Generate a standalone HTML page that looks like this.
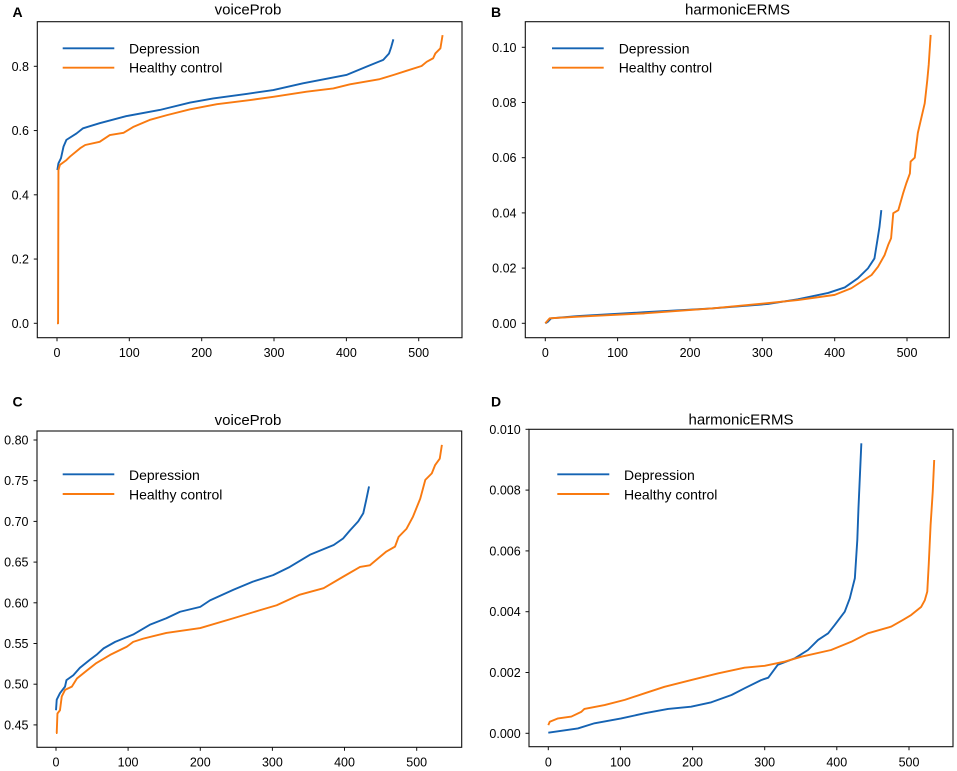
<!DOCTYPE html>
<html><head><meta charset="utf-8"><style>
html,body{margin:0;padding:0;background:#fff;}
svg{display:block;}
text{font-family:"Liberation Sans",Arial,sans-serif;fill:#000;}
.t{font-size:12.5px;}
.ti{font-size:15px;}
.lg{font-size:14px;}
.pl{font-size:14px;font-weight:bold;}
.ax{fill:none;stroke:#111;stroke-width:1.1;}
.tk{stroke:#111;stroke-width:1;}
.b{fill:none;stroke:#1563b3;stroke-width:1.9;vector-effect:non-scaling-stroke;stroke-linejoin:round;}
.o{fill:none;stroke:#f97a10;stroke-width:1.9;vector-effect:non-scaling-stroke;stroke-linejoin:round;}
.lb{stroke:#1563b3;stroke-width:1.9;}
.lo{stroke:#f97a10;stroke-width:1.9;}
</style></head><body>
<svg width="957" height="771" viewBox="0 0 957 771" xmlns="http://www.w3.org/2000/svg">
<!-- Panel A -->
<text class="pl" x="12.5" y="17">A</text>
<text class="ti" x="248" y="14.5" text-anchor="middle">voiceProb</text>
<polyline class="b" transform="matrix(0.7234,0,0,-321.25,57,323.3)" points="0.5,0.477 2,0.498 5.5,0.514 9,0.55 13,0.571 27,0.591 36,0.607 59,0.623 96,0.645 142,0.664 184,0.687 216,0.700 262,0.714 299,0.726 340,0.747 400,0.773 428,0.799 451,0.82 459,0.84 462,0.86 465,0.884"/>
<polyline class="o" transform="matrix(0.7234,0,0,-321.25,57,323.3)" points="0,0 1.5,0 2,0.477 4,0.493 13,0.508 18,0.519 32,0.545 39,0.555 59,0.565 73,0.586 92,0.593 106,0.612 128,0.633 152,0.648 184,0.666 221,0.682 267,0.695 299,0.705 345,0.721 382,0.731 405,0.744 446,0.76 465,0.773 483,0.786 504,0.801 511,0.814 520,0.825 523,0.84 530,0.856 533,0.897"/>
<rect class="ax" x="37.3" y="21.7" width="424.7" height="316"/>
<g class="tk">
<line x1="33.8" x2="37.3" y1="323.3" y2="323.3"/><line x1="33.8" x2="37.3" y1="259.05" y2="259.05"/><line x1="33.8" x2="37.3" y1="194.8" y2="194.8"/><line x1="33.8" x2="37.3" y1="130.55" y2="130.55"/><line x1="33.8" x2="37.3" y1="66.3" y2="66.3"/>
<line x1="57" x2="57" y1="337.7" y2="341.2"/><line x1="129.3" x2="129.3" y1="337.7" y2="341.2"/><line x1="201.7" x2="201.7" y1="337.7" y2="341.2"/><line x1="274" x2="274" y1="337.7" y2="341.2"/><line x1="346.4" x2="346.4" y1="337.7" y2="341.2"/><line x1="418.7" x2="418.7" y1="337.7" y2="341.2"/>
</g>
<g class="t" text-anchor="end">
<text x="29" y="327.8">0.0</text><text x="29" y="263.5">0.2</text><text x="29" y="199.3">0.4</text><text x="29" y="135">0.6</text><text x="29" y="70.8">0.8</text>
</g>
<g class="t" text-anchor="middle">
<text x="57" y="357">0</text><text x="129.3" y="357">100</text><text x="201.7" y="357">200</text><text x="274" y="357">300</text><text x="346.4" y="357">400</text><text x="418.7" y="357">500</text>
</g>
<line class="lb" x1="62.7" x2="114.3" y1="48.3" y2="48.3"/>
<line class="lo" x1="62.7" x2="114.3" y1="67.7" y2="67.7"/>
<text class="lg" x="129" y="53.3">Depression</text>
<text class="lg" x="129" y="72.7">Healthy control</text>

<!-- Panel B -->
<text class="pl" x="491" y="17">B</text>
<text class="ti" x="737.5" y="14.5" text-anchor="middle">harmonicERMS</text>
<polyline class="b" transform="matrix(0.7234,0,0,-2.76,545.3,323.3)" points="0,0 3.7,0.6 8,1.8 45,2.6 137,4.0 230,5.4 308,7.0 349,8.7 391,11 414,13 432,16.3 446,19.9 455,23.5 459,30 462,35 464.5,41"/>
<polyline class="o" transform="matrix(0.7234,0,0,-2.76,545.3,323.3)" points="0,0 6,1.8 45,2.4 137,3.6 230,5.4 303,7.2 349,8.4 400,10.3 423,12.7 437,15.1 451,17.5 460,20.5 469,24.7 474,28.4 478,30.8 481,39.9 488,41 494.5,47 499,50.7 504,54.3 505,58.6 510.7,60 515,69 524.5,79.7 528,88 530,93.6 532.7,104.5"/>
<rect class="ax" x="525.3" y="21.7" width="424" height="316"/>
<g class="tk">
<line x1="521.8" x2="525.3" y1="323.3" y2="323.3"/><line x1="521.8" x2="525.3" y1="268.1" y2="268.1"/><line x1="521.8" x2="525.3" y1="212.9" y2="212.9"/><line x1="521.8" x2="525.3" y1="157.7" y2="157.7"/><line x1="521.8" x2="525.3" y1="102.5" y2="102.5"/><line x1="521.8" x2="525.3" y1="47.3" y2="47.3"/>
<line x1="545.3" x2="545.3" y1="337.7" y2="341.2"/><line x1="617.6" x2="617.6" y1="337.7" y2="341.2"/><line x1="690" x2="690" y1="337.7" y2="341.2"/><line x1="762.3" x2="762.3" y1="337.7" y2="341.2"/><line x1="834.7" x2="834.7" y1="337.7" y2="341.2"/><line x1="907" x2="907" y1="337.7" y2="341.2"/>
</g>
<g class="t" text-anchor="end">
<text x="516.5" y="327.8">0.00</text><text x="516.5" y="272.6">0.02</text><text x="516.5" y="217.4">0.04</text><text x="516.5" y="162.2">0.06</text><text x="516.5" y="107">0.08</text><text x="516.5" y="51.8">0.10</text>
</g>
<g class="t" text-anchor="middle">
<text x="545.3" y="357">0</text><text x="617.6" y="357">100</text><text x="690" y="357">200</text><text x="762.3" y="357">300</text><text x="834.7" y="357">400</text><text x="907" y="357">500</text>
</g>
<line class="lb" x1="552" x2="603.7" y1="48.3" y2="48.3"/>
<line class="lo" x1="552" x2="603.7" y1="67.7" y2="67.7"/>
<text class="lg" x="618.7" y="53.3">Depression</text>
<text class="lg" x="618.7" y="72.7">Healthy control</text>

<!-- Panel C -->
<text class="pl" x="12.5" y="406.5">C</text>
<text class="ti" x="248" y="425" text-anchor="middle">voiceProb</text>
<polyline class="b" transform="matrix(0.7213,0,0,-814,56,1091.2)" points="0,0.468 1,0.481 5.5,0.489 12.5,0.497 14.5,0.505 24,0.511 33,0.520 47,0.530 56,0.536 66,0.544 82,0.552 107,0.561 130,0.573 153,0.581 172,0.589 200,0.595 213.5,0.603 246,0.616 273,0.626 301,0.634 324,0.644 352,0.659 385,0.671 398,0.679 407.6,0.689 419,0.700 426,0.710 430,0.726 434,0.743"/>
<polyline class="o" transform="matrix(0.7213,0,0,-814,56,1091.2)" points="0,0.44 1,0.44 2,0.464 5.5,0.468 8,0.485 12.5,0.493 22,0.497 29,0.507 43,0.517 56,0.526 75,0.536 98,0.546 107,0.552 121,0.556 153,0.563 200,0.569 246,0.581 283,0.591 306,0.597 338,0.610 371,0.618 398,0.632 421.5,0.644 435,0.646 458,0.663 470,0.669 475,0.681 486,0.691 495,0.706 505,0.728 512,0.751 521,0.759 525.5,0.769 532,0.777 535,0.794"/>
<rect class="ax" x="37" y="431" width="424.7" height="316.3"/>
<g class="tk">
<line x1="33.5" x2="37" y1="724.9" y2="724.9"/><line x1="33.5" x2="37" y1="684.2" y2="684.2"/><line x1="33.5" x2="37" y1="643.5" y2="643.5"/><line x1="33.5" x2="37" y1="602.8" y2="602.8"/><line x1="33.5" x2="37" y1="562.1" y2="562.1"/><line x1="33.5" x2="37" y1="521.4" y2="521.4"/><line x1="33.5" x2="37" y1="480.7" y2="480.7"/><line x1="33.5" x2="37" y1="440" y2="440"/>
<line x1="56" x2="56" y1="747.3" y2="750.8"/><line x1="128.1" x2="128.1" y1="747.3" y2="750.8"/><line x1="200.3" x2="200.3" y1="747.3" y2="750.8"/><line x1="272.4" x2="272.4" y1="747.3" y2="750.8"/><line x1="344.5" x2="344.5" y1="747.3" y2="750.8"/><line x1="416.7" x2="416.7" y1="747.3" y2="750.8"/>
</g>
<g class="t" text-anchor="end">
<text x="28.5" y="729.4">0.45</text><text x="28.5" y="688.7">0.50</text><text x="28.5" y="648">0.55</text><text x="28.5" y="607.3">0.60</text><text x="28.5" y="566.6">0.65</text><text x="28.5" y="525.9">0.70</text><text x="28.5" y="485.2">0.75</text><text x="28.5" y="444.5">0.80</text>
</g>
<g class="t" text-anchor="middle">
<text x="56" y="766.7">0</text><text x="128.1" y="766.7">100</text><text x="200.3" y="766.7">200</text><text x="272.4" y="766.7">300</text><text x="344.5" y="766.7">400</text><text x="416.7" y="766.7">500</text>
</g>
<line class="lb" x1="62.7" x2="114.3" y1="474.3" y2="474.3"/>
<line class="lo" x1="62.7" x2="114.3" y1="494" y2="494"/>
<text class="lg" x="129" y="480">Depression</text>
<text class="lg" x="129" y="499.3">Healthy control</text>

<!-- Panel D -->
<text class="pl" x="491" y="406.5">D</text>
<text class="ti" x="741" y="424.5" text-anchor="middle">harmonicERMS</text>
<polyline class="b" transform="matrix(0.7213,0,0,-30.4,548.3,733.3)" points="0,0.02 41,0.16 64,0.33 101,0.49 134,0.66 166,0.80 198,0.875 226,1.02 254,1.26 272,1.48 295,1.75 305,1.83 318,2.25 342,2.47 360,2.74 374,3.07 388,3.29 397,3.56 411,4.0 418,4.44 425,5.1 428.4,6.36 430,7.4 434,9.54"/>
<polyline class="o" transform="matrix(0.7213,0,0,-30.4,548.3,733.3)" points="0,0.27 2,0.38 13.5,0.49 32,0.55 46,0.71 50,0.8 78,0.93 106,1.1 134,1.32 161,1.53 198,1.75 235,1.97 272,2.16 300,2.22 328,2.36 351,2.52 392,2.74 420,3.01 443,3.29 475.5,3.51 491.7,3.73 503,3.89 517,4.16 522,4.38 525.4,4.66 527.4,5.54 530,6.85 533,7.95 535,8.99"/>
<rect class="ax" x="529" y="429.3" width="424" height="317.4"/>
<g class="tk">
<line x1="525.5" x2="529" y1="733.3" y2="733.3"/><line x1="525.5" x2="529" y1="672.5" y2="672.5"/><line x1="525.5" x2="529" y1="611.7" y2="611.7"/><line x1="525.5" x2="529" y1="550.9" y2="550.9"/><line x1="525.5" x2="529" y1="490.1" y2="490.1"/><line x1="525.5" x2="529" y1="429.3" y2="429.3"/>
<line x1="548.3" x2="548.3" y1="746.7" y2="750.2"/><line x1="620.4" x2="620.4" y1="746.7" y2="750.2"/><line x1="692.6" x2="692.6" y1="746.7" y2="750.2"/><line x1="764.7" x2="764.7" y1="746.7" y2="750.2"/><line x1="836.8" x2="836.8" y1="746.7" y2="750.2"/><line x1="909" x2="909" y1="746.7" y2="750.2"/>
</g>
<g class="t" text-anchor="end">
<text x="520.7" y="737.8">0.000</text><text x="520.7" y="677">0.002</text><text x="520.7" y="616.2">0.004</text><text x="520.7" y="555.4">0.006</text><text x="520.7" y="494.6">0.008</text><text x="520.7" y="433.8">0.010</text>
</g>
<g class="t" text-anchor="middle">
<text x="548.3" y="766.7">0</text><text x="620.4" y="766.7">100</text><text x="692.6" y="766.7">200</text><text x="764.7" y="766.7">300</text><text x="836.8" y="766.7">400</text><text x="909" y="766.7">500</text>
</g>
<line class="lb" x1="557.3" x2="609.3" y1="474.3" y2="474.3"/>
<line class="lo" x1="557.3" x2="609.3" y1="494" y2="494"/>
<text class="lg" x="624" y="480">Depression</text>
<text class="lg" x="624" y="499.3">Healthy control</text>
</svg>
</body></html>
